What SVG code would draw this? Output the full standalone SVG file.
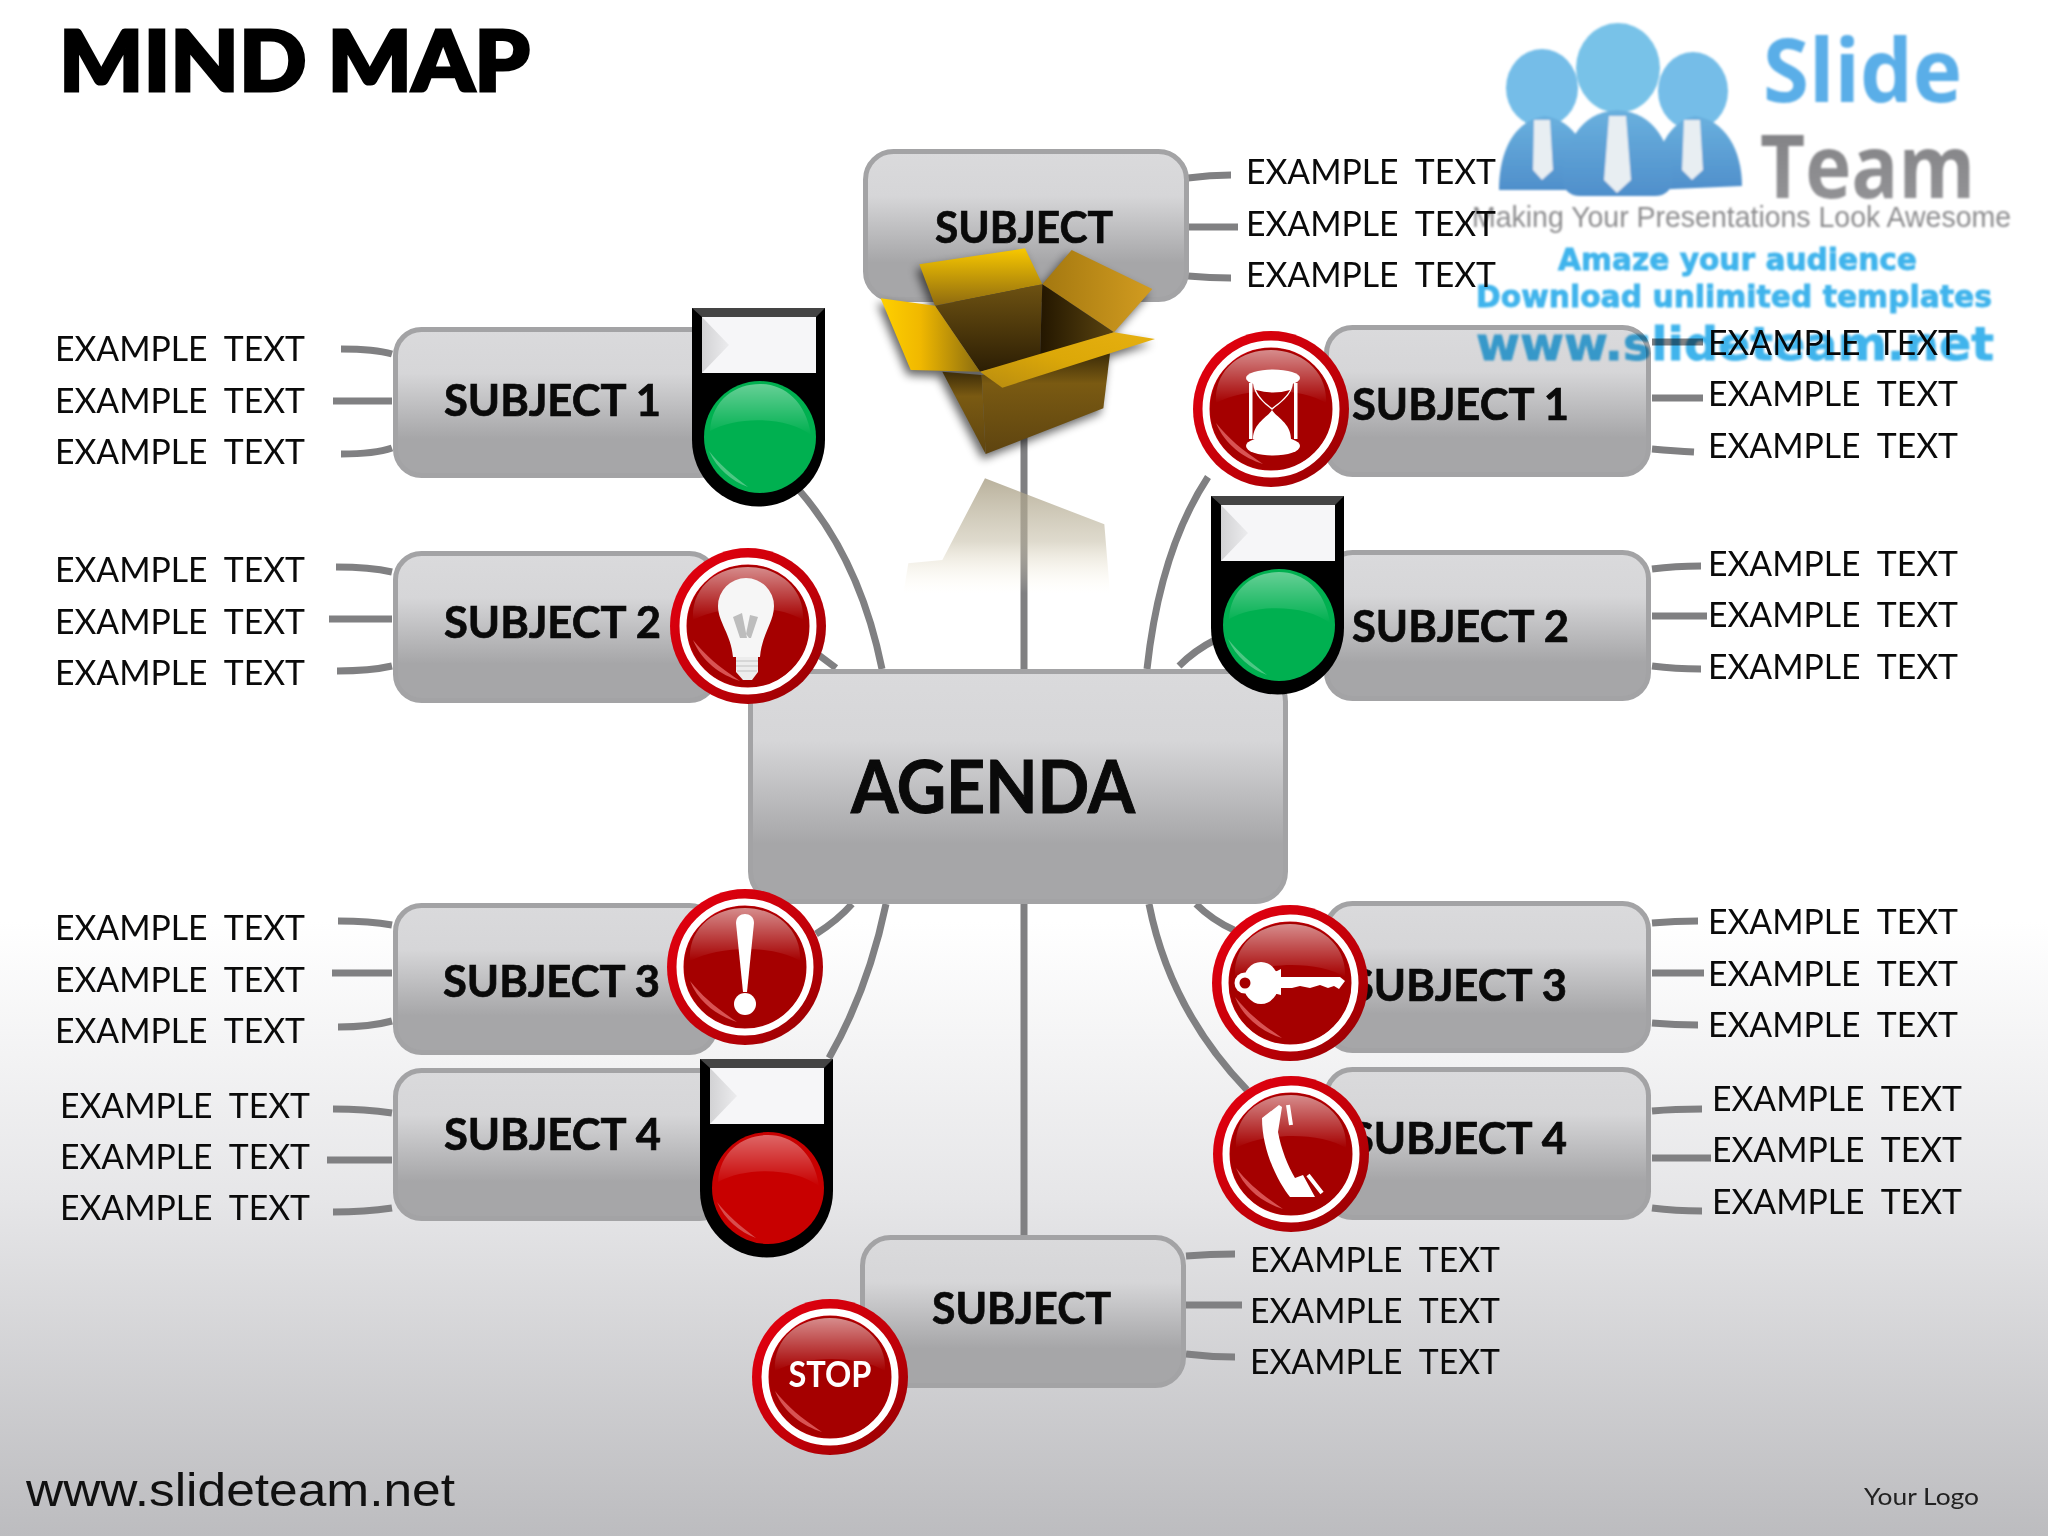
<svg xmlns="http://www.w3.org/2000/svg" width="2048" height="1536" viewBox="0 0 2048 1536">
<style>
.box{fill:url(#nodeG);stroke:#a3a3a5;stroke-width:5}
.lab{font-family:"Lato","Liberation Sans",sans-serif;font-weight:700;font-size:43px;fill:#0a0a0a;stroke:#0a0a0a;stroke-width:.7px}
.ex{font-family:"Lato","Liberation Sans",sans-serif;font-size:35px;fill:#0a0a0a;white-space:pre}
.st{fill:none;stroke:#808082;stroke-width:7}
.wm{font-family:"DejaVu Sans",sans-serif;font-weight:700;fill:#3fb4ec;stroke:#3fb4ec;stroke-width:.8px}
.white{fill:#fff}
.dark{fill:#a50000}
</style>
<defs>
<linearGradient id="bg" x1="0" y1="0" x2="0" y2="1"><stop offset="0" stop-color="#fff"/><stop offset=".6" stop-color="#fff"/><stop offset=".78" stop-color="#e6e6e8"/><stop offset="1" stop-color="#bcbcbf"/></linearGradient>
<linearGradient id="nodeG" x1="0" y1="0" x2="0" y2="1"><stop offset="0" stop-color="#dadadc"/><stop offset=".3" stop-color="#d6d6d8"/><stop offset=".75" stop-color="#a6a6a8"/><stop offset="1" stop-color="#a6a6a8"/></linearGradient>
<linearGradient id="rim" x1="0" y1="0" x2="1" y2="1"><stop offset="0" stop-color="#e80010"/><stop offset=".6" stop-color="#c00008"/><stop offset="1" stop-color="#8e0000"/></linearGradient>
<linearGradient id="gloss" x1="0" y1="0" x2="0" y2="1"><stop offset="0" stop-color="#fff" stop-opacity=".55"/><stop offset="1" stop-color="#fff" stop-opacity="0"/></linearGradient>
<linearGradient id="gloss2" x1="0" y1="0" x2="0" y2="1"><stop offset="0" stop-color="#fff" stop-opacity=".4"/><stop offset="1" stop-color="#fff" stop-opacity="0"/></linearGradient>
<linearGradient id="win" x1="0" y1="0" x2="1" y2="0"><stop offset="0" stop-color="#d2d2d4"/><stop offset="1" stop-color="#ececee"/></linearGradient>
<linearGradient id="f1" x1="0" y1="0" x2="0" y2="1"><stop offset="0" stop-color="#f8c800"/><stop offset="1" stop-color="#8e6a10"/></linearGradient>
<linearGradient id="f2" x1="0" y1="0" x2="1" y2="0"><stop offset="0" stop-color="#a47810"/><stop offset="1" stop-color="#d29c20"/></linearGradient>
<linearGradient id="f3" x1="0" y1="0" x2="1" y2="0"><stop offset="0" stop-color="#ffd000"/><stop offset=".4" stop-color="#f0b800"/><stop offset="1" stop-color="#8a6c10"/></linearGradient>
<linearGradient id="f4" x1="0" y1="1" x2="1" y2="0"><stop offset="0" stop-color="#b88c10"/><stop offset=".5" stop-color="#dca808"/><stop offset="1" stop-color="#e6b010"/></linearGradient>
<linearGradient id="i1" x1="0" y1="0" x2="0" y2="1"><stop offset="0" stop-color="#6e5212"/><stop offset="1" stop-color="#2c1e04"/></linearGradient>
<linearGradient id="i2" x1="0" y1="0" x2="1" y2="0"><stop offset="0" stop-color="#231600"/><stop offset="1" stop-color="#5a4410"/></linearGradient>
<linearGradient id="fr2" x1="0" y1="0" x2="0" y2="1"><stop offset="0" stop-color="#3c2c08"/><stop offset=".3" stop-color="#7a5a12"/><stop offset="1" stop-color="#5e4410"/></linearGradient>
<linearGradient id="refl" x1="0" y1="0" x2="0" y2="1"><stop offset="0" stop-color="#a89e84" stop-opacity=".8"/><stop offset=".55" stop-color="#c4bca4" stop-opacity=".55"/><stop offset="1" stop-color="#fff6dc" stop-opacity="0"/></linearGradient>
<linearGradient id="bodyG" x1="0" y1="0" x2="0" y2="1"><stop offset="0" stop-color="#6ab0de"/><stop offset="1" stop-color="#4f8fcb"/></linearGradient>
<linearGradient id="teamG" x1="0" y1="0" x2="0" y2="1"><stop offset="0" stop-color="#7d7d80"/><stop offset="1" stop-color="#98989b"/></linearGradient>
<filter id="sh" x="-20%" y="-20%" width="140%" height="140%"><feGaussianBlur stdDeviation="15"/></filter>
<filter id="soft" x="-5%" y="-5%" width="110%" height="110%"><feGaussianBlur stdDeviation=".8"/></filter>
<g id="btn">
<circle r="78" fill="url(#rim)"/>
<circle r="65" fill="none" stroke="#fff" stroke-width="7"/>
<circle r="61" fill="#a50000"/>
<path d="M-55,-6C-57,-40-30-59 0-59C30-59 57-38 55-6C30-22-25-22-55-6Z" fill="url(#gloss)"/>
<path d="M-55,14C-46,36-27,49-8,55C-30,40-42,30-55,14Z" fill="#f28080" opacity=".65"/>
</g>
<g id="frame">
<path d="M0,0H133V132A66.5,66.5 0 0 1 0,132Z" fill="#000"/>
<polygon points="0,0 133,0 124,9 10,9" fill="#444"/>
<rect x="10" y="9" width="114" height="56" fill="#f6f6f8"/>
<polygon points="10,9 37,37 10,65" fill="url(#win)"/>
</g>
<g id="lampGloss">
<path d="M-50,-6C-48,-38-24-53 0-53C24-53 46-36 51,-2C28-20-22-22-50-6Z" fill="url(#gloss2)"/>
<path d="M-51,14C-43,32-28,44-12,50C-30,36-40,28-51,14Z" fill="#fff" opacity=".3"/>
</g>
</defs>

<rect width="2048" height="1536" fill="url(#bg)"/>

<g id="connectors">
<path class="st" d="M341,349Q375,349 392,354M333,401H392M341,454Q375,454 392,448"/>
<path class="st" d="M336,567Q370,567 392,572M329,619H392M337,671Q370,671 392,666"/>
<path class="st" d="M338,921Q370,921 392,925M332,973H392M338,1027Q370,1027 392,1021"/>
<path class="st" d="M333,1109Q365,1109 392,1113M327,1160H392M333,1212Q365,1212 392,1208"/>
<path class="st" d="M1188,178Q1210,175 1231,175M1188,227H1238M1188,276Q1210,278 1231,278"/>
<path class="st" d="M1652,342H1703M1652,398H1703M1652,449Q1675,451 1694,452"/>
<path class="st" d="M1652,569Q1675,566 1701,566M1652,616H1707M1652,666Q1675,669 1701,669"/>
<path class="st" d="M1652,923Q1675,921 1698,921M1652,973H1704M1652,1023Q1675,1025 1698,1025"/>
<path class="st" d="M1652,1111Q1675,1109 1702,1109M1652,1158H1711M1652,1208Q1675,1211 1702,1211"/>
<path class="st" d="M1186,1256Q1210,1254 1235,1254M1186,1305H1242M1186,1354Q1210,1357 1235,1357"/>
<path class="st" d="M799,490Q860,560 882,669M816,653L836,668M816,934Q838,920 852,904M829,1058Q868,990 886,904"/>
<path class="st" d="M1208,477Q1160,550 1147,669M1215,640Q1195,650 1179,666M1234,930Q1212,920 1196,904M1247,1090Q1170,1010 1149,904"/>
<path class="st" d="M1024,437V669M1024,904V1237"/>
</g>

<g id="agenda">
<rect class="box" x="750.500" y="671.500" width="535" height="230" rx="30"/>
<text x="851" y="813" font-family="Lato,'Liberation Sans',sans-serif" font-weight="700" font-size="73" fill="#0a0a0a" stroke="#0a0a0a" stroke-width="1" textLength="284" lengthAdjust="spacingAndGlyphs">AGENDA</text>
</g>

<g id="subject-top">
<rect class="box" x="865.500" y="151.500" width="321" height="148" rx="28"/>
<text class="lab" x="935" y="243" textLength="178" lengthAdjust="spacingAndGlyphs">SUBJECT</text>
<text class="ex" x="1246" y="184" textLength="250" lengthAdjust="spacingAndGlyphs">EXAMPLE  TEXT</text>
<text class="ex" x="1246" y="236" textLength="250" lengthAdjust="spacingAndGlyphs">EXAMPLE  TEXT</text>
<text class="ex" x="1246" y="287" textLength="250" lengthAdjust="spacingAndGlyphs">EXAMPLE  TEXT</text>
<g transform="translate(840,130) scale(.33333)">
<polygon points="435,1045 793,1183 810,1390 190,1390 205,1300 307,1290" fill="url(#refl)"/>
<g fill="#000" opacity=".6" filter="url(#sh)"><polygon transform="translate(-10,15)" points="238,403 555,355 607,463 695,360 937,477 822,607 945,627 810,670 790,835 437,972 307,725 212,720 122,505 285,527"/></g>
<polygon points="238,403 555,355 607,463 285,527" fill="url(#f1)"/>
<polygon points="695,360 937,477 822,607 607,463" fill="url(#f2)"/>
<polygon points="285,527 607,463 600,680 420,725" fill="url(#i1)"/>
<polygon points="607,463 822,607 600,680" fill="url(#i2)"/>
<polygon points="307,725 425,735 437,972" fill="url(#fr2)"/>
<polygon points="425,735 810,670 790,835 437,972" fill="url(#fr2)"/>
<polygon points="122,505 285,527 420,725 212,720" fill="url(#f3)"/>
<polygon points="420,725 822,607 945,627 487,773" fill="url(#f4)"/>
</g>
</g>

<g id="subject-l1">
<rect class="box" x="395.500" y="329.500" width="330" height="146" rx="26"/>
<text class="lab" x="444" y="416" textLength="217" lengthAdjust="spacingAndGlyphs">SUBJECT 1</text>
<text class="ex" x="55" y="361" textLength="250" lengthAdjust="spacingAndGlyphs">EXAMPLE  TEXT</text>
<text class="ex" x="55" y="413" textLength="250" lengthAdjust="spacingAndGlyphs">EXAMPLE  TEXT</text>
<text class="ex" x="55" y="464" textLength="250" lengthAdjust="spacingAndGlyphs">EXAMPLE  TEXT</text>
<use href="#frame" x="692" y="308"/>
<circle cx="760" cy="437" r="56" fill="#00b050"/>
<use href="#lampGloss" x="760" y="437"/>
</g>

<g id="subject-l2">
<rect class="box" x="395.500" y="553.500" width="320" height="147" rx="26"/>
<text class="lab" x="444" y="638" textLength="217" lengthAdjust="spacingAndGlyphs">SUBJECT 2</text>
<text class="ex" x="55" y="582" textLength="250" lengthAdjust="spacingAndGlyphs">EXAMPLE  TEXT</text>
<text class="ex" x="55" y="634" textLength="250" lengthAdjust="spacingAndGlyphs">EXAMPLE  TEXT</text>
<text class="ex" x="55" y="685" textLength="250" lengthAdjust="spacingAndGlyphs">EXAMPLE  TEXT</text>
<g transform="translate(748,626)">
<use href="#btn"/>
<path d="M-30,-20A28,28 0 1 1 26,-20C26,-4 14,8 12,31H-15C-17,8-30,-4-30,-20Z" fill="#f6f6f6"/>
<path d="M-12,31H10V46L4,54H-5L-12,46Z" fill="#ededed"/>
<path d="M-12,35H10M-12,40H10M-11,45H9" stroke="#cfcfcf" stroke-width="1.500" fill="none"/>
<polygon points="-15,-9 -6,-13 -1,12 -8,12" fill="#bdbdbd"/>
<polygon points="10,-9 2,-11 -2,8 1,12 3,12" fill="#bdbdbd"/>
</g>
</g>

<g id="subject-l3">
<rect class="box" x="395.500" y="905.500" width="320" height="147" rx="26"/>
<text class="lab" x="443" y="997" textLength="217" lengthAdjust="spacingAndGlyphs">SUBJECT 3</text>
<text class="ex" x="55" y="940" textLength="250" lengthAdjust="spacingAndGlyphs">EXAMPLE  TEXT</text>
<text class="ex" x="55" y="992" textLength="250" lengthAdjust="spacingAndGlyphs">EXAMPLE  TEXT</text>
<text class="ex" x="55" y="1043" textLength="250" lengthAdjust="spacingAndGlyphs">EXAMPLE  TEXT</text>
<g transform="translate(745,967)">
<use href="#btn"/>
<path class="white" d="M-9,-44C-9,-56 9,-56 9,-44L2,25H-2Z"/>
<circle class="white" cy="37" r="11"/>
</g>
</g>

<g id="subject-l4">
<rect class="box" x="395.500" y="1070.500" width="330" height="148" rx="26"/>
<text class="lab" x="444" y="1150" textLength="217" lengthAdjust="spacingAndGlyphs">SUBJECT 4</text>
<text class="ex" x="60" y="1118" textLength="250" lengthAdjust="spacingAndGlyphs">EXAMPLE  TEXT</text>
<text class="ex" x="60" y="1169" textLength="250" lengthAdjust="spacingAndGlyphs">EXAMPLE  TEXT</text>
<text class="ex" x="60" y="1220" textLength="250" lengthAdjust="spacingAndGlyphs">EXAMPLE  TEXT</text>
<use href="#frame" x="700" y="1059"/>
<circle cx="768" cy="1188" r="56" fill="#c80000"/>
<use href="#lampGloss" x="768" y="1188"/>
</g>

<g id="subject-r1">
<rect class="box" x="1326.500" y="327.500" width="322" height="147" rx="26"/>
<text class="lab" x="1352" y="420" textLength="217" lengthAdjust="spacingAndGlyphs">SUBJECT 1</text>
<text class="ex" x="1708" y="355" textLength="250" lengthAdjust="spacingAndGlyphs">EXAMPLE  TEXT</text>
<text class="ex" x="1708" y="406" textLength="250" lengthAdjust="spacingAndGlyphs">EXAMPLE  TEXT</text>
<text class="ex" x="1708" y="458" textLength="250" lengthAdjust="spacingAndGlyphs">EXAMPLE  TEXT</text>
<g transform="translate(1271,409)">
<use href="#btn"/>
<rect class="white" x="-22" y="-26" width="3.500" height="56"/>
<rect class="white" x="23" y="-26" width="3.500" height="56"/>
<path class="white" d="M-18,-26H22C21,-13 9,-6 1,1 -7,-6-17,-13-18,-26Z"/>
<path class="dark" d="M-15,-19Q2,-14 19,-19C14,-10 6,-5 1,-1-4,-5-11,-10-15,-19Z"/>
<path class="white" d="M1,1C5,8 20,14 20,30H-18C-18,14-3,8 1,1Z"/>
<ellipse class="white" cx="2" cy="-31" rx="27" ry="8.500"/>
<ellipse class="white" cx="2" cy="37" rx="27" ry="9.500"/>
</g>
</g>

<g id="subject-r2">
<rect class="box" x="1326.500" y="552.500" width="322" height="146" rx="26"/>
<text class="lab" x="1352" y="642" textLength="217" lengthAdjust="spacingAndGlyphs">SUBJECT 2</text>
<text class="ex" x="1708" y="576" textLength="250" lengthAdjust="spacingAndGlyphs">EXAMPLE  TEXT</text>
<text class="ex" x="1708" y="627" textLength="250" lengthAdjust="spacingAndGlyphs">EXAMPLE  TEXT</text>
<text class="ex" x="1708" y="679" textLength="250" lengthAdjust="spacingAndGlyphs">EXAMPLE  TEXT</text>
<use href="#frame" x="1211" y="496"/>
<circle cx="1279" cy="625" r="56" fill="#00b050"/>
<use href="#lampGloss" x="1279" y="625"/>
</g>

<g id="subject-r3">
<rect class="box" x="1326.500" y="903.500" width="322" height="147" rx="26"/>
<text class="lab" x="1350" y="1001" textLength="217" lengthAdjust="spacingAndGlyphs">SUBJECT 3</text>
<text class="ex" x="1708" y="934" textLength="250" lengthAdjust="spacingAndGlyphs">EXAMPLE  TEXT</text>
<text class="ex" x="1708" y="986" textLength="250" lengthAdjust="spacingAndGlyphs">EXAMPLE  TEXT</text>
<text class="ex" x="1708" y="1037" textLength="250" lengthAdjust="spacingAndGlyphs">EXAMPLE  TEXT</text>
<g transform="translate(1290,983)">
<use href="#btn"/>
<circle class="white" cx="-45" r="10.500"/>
<ellipse class="white" cx="-29" rx="18" ry="21"/>
<path class="white" d="M-20,-11L-13,-12-9,-14V-6H50L55,-2 49,6 44,3 38,5 30,2 20,5 10,3 2,5-9,5V12L-13,11-20,11Z"/>
<circle class="dark" cx="-45" r="5.500"/>
</g>
</g>

<g id="subject-r4">
<rect class="box" x="1326.500" y="1069.500" width="322" height="148" rx="26"/>
<text class="lab" x="1350" y="1154" textLength="217" lengthAdjust="spacingAndGlyphs">SUBJECT 4</text>
<text class="ex" x="1712" y="1111" textLength="250" lengthAdjust="spacingAndGlyphs">EXAMPLE  TEXT</text>
<text class="ex" x="1712" y="1162" textLength="250" lengthAdjust="spacingAndGlyphs">EXAMPLE  TEXT</text>
<text class="ex" x="1712" y="1214" textLength="250" lengthAdjust="spacingAndGlyphs">EXAMPLE  TEXT</text>
<g transform="translate(1291,1154)">
<use href="#btn"/>
<path class="white" d="M-29,-36L-12,-49-9,-47-13,-22C-10,-5-3,12 4,24L12,21 24,43H-1C-10,32-29,0-29,-36Z"/>
<path d="M-3,-49L0,-29M17,21L31,39" stroke="#fff" stroke-width="4" fill="none"/>
</g>
</g>

<g id="subject-bottom">
<rect class="box" x="862.500" y="1237.500" width="321" height="148" rx="28"/>
<text class="lab" x="932" y="1324" textLength="179" lengthAdjust="spacingAndGlyphs">SUBJECT</text>
<text class="ex" x="1250" y="1272" textLength="250" lengthAdjust="spacingAndGlyphs">EXAMPLE  TEXT</text>
<text class="ex" x="1250" y="1323" textLength="250" lengthAdjust="spacingAndGlyphs">EXAMPLE  TEXT</text>
<text class="ex" x="1250" y="1374" textLength="250" lengthAdjust="spacingAndGlyphs">EXAMPLE  TEXT</text>
<g transform="translate(830,1377)">
<use href="#btn"/>
<text x="0" y="10" text-anchor="middle" font-family="Lato,'Liberation Sans',sans-serif" font-weight="700" font-size="36" fill="#fff" textLength="83" lengthAdjust="spacingAndGlyphs">STOP</text>
</g>
</g>

<g id="title-texts">
<text x="59" y="91" font-family="Lato,'Liberation Sans',sans-serif" font-weight="900" font-size="84" fill="#000" stroke="#000" stroke-width="3" textLength="471" lengthAdjust="spacingAndGlyphs">MIND MAP</text>
<text x="26" y="1506" font-family="'Liberation Sans',sans-serif" font-size="47" fill="#111" textLength="429" lengthAdjust="spacingAndGlyphs">www.slideteam.net</text>
<text x="1864" y="1505" font-family="Lato,'Liberation Sans',sans-serif" font-size="24" fill="#222" textLength="115" lengthAdjust="spacingAndGlyphs">Your Logo</text>
</g>

<g id="watermark" style="mix-blend-mode:multiply">
<g filter="url(#soft)">
<ellipse cx="1542" cy="88" rx="36" ry="39" fill="#74bde8"/>
<ellipse cx="1693" cy="91" rx="35" ry="39" fill="#74bde8"/>
<path d="M1499,190C1499,150 1515,120 1545,116 1575,120 1590,150 1595,190Z" fill="url(#bodyG)"/>
<path d="M1650,190C1655,150 1670,120 1695,116 1725,120 1742,150 1742,186Z" fill="url(#bodyG)"/>
<ellipse cx="1618" cy="68" rx="42" ry="45" fill="#78c2e8"/>
<path d="M1563,180C1563,145 1580,112 1617,110 1655,112 1672,145 1672,180 1672,190 1665,196 1655,196H1580C1570,196 1563,190 1563,180Z" fill="url(#bodyG)"/>
<path d="M1534,120H1550L1553,170 1542,180 1533,170Z" fill="#e8eef2"/>
<path d="M1609,116H1626L1631,180 1617,193 1604,180Z" fill="#e8eef2"/>
<path d="M1684,120H1700L1703,170 1692,180 1682,170Z" fill="#e8eef2"/>
<text x="1763" y="102" font-family="'Open Sans',sans-serif" font-weight="700" font-size="88" fill="#5aaee8" textLength="199" lengthAdjust="spacingAndGlyphs">Slide</text>
<text x="1760" y="198" font-family="'Open Sans',sans-serif" font-weight="700" font-size="88" fill="url(#teamG)" textLength="215" lengthAdjust="spacingAndGlyphs">Team</text>
<text x="1472" y="227" font-family="'Liberation Sans',sans-serif" font-size="29" fill="#8c8c8e" textLength="539" lengthAdjust="spacingAndGlyphs">Making Your Presentations Look Awesome</text>
<text class="wm" x="1558" y="270" font-size="30" textLength="359" lengthAdjust="spacingAndGlyphs">Amaze your audience</text>
<text class="wm" x="1476" y="307" font-size="30" textLength="516" lengthAdjust="spacingAndGlyphs">Download unlimited templates</text>
<text class="wm" x="1476" y="360" font-size="47" textLength="518" lengthAdjust="spacingAndGlyphs">www.slideteam.net</text>
</g>
</g>
</svg>
